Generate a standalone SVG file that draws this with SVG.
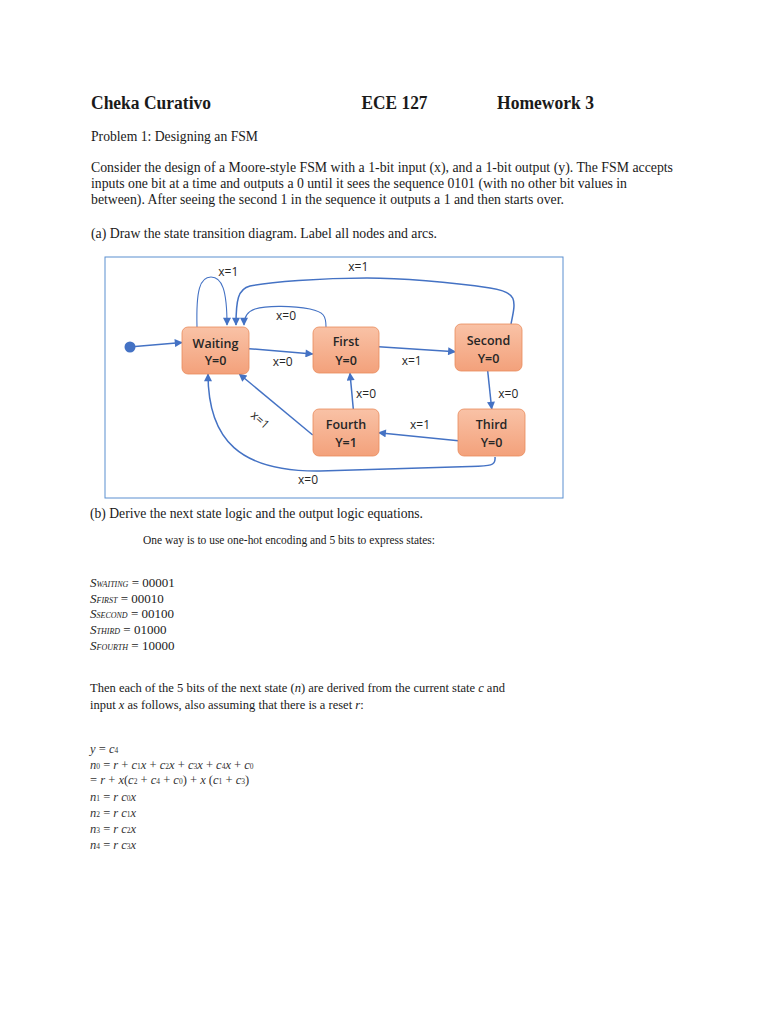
<svg xmlns="http://www.w3.org/2000/svg" width="768" height="1024" viewBox="0 0 768 1024">
<style>
.t{font-family:"Liberation Serif","Times New Roman",serif;fill:#1a1a1a}
.h{font-size:18px;font-weight:bold}
.b{font-size:14px}
.s{font-size:12.5px}
.sl{font-size:13px}
.e{font-size:12.5px;fill:#333}
.i{font-style:italic}
.sub{font-size:7.5px}
.sc{font-size:8px;font-style:italic}
.nt{font-family:"Open Sans","Liberation Sans",sans-serif;font-size:12.5px;fill:#262626;text-anchor:middle;font-weight:600}
.lb{font-family:"Open Sans","Liberation Sans",sans-serif;font-size:12px;fill:#262626;text-anchor:middle}
.node{fill:url(#ng);stroke:#E98A5B;stroke-width:0.8}
.c{fill:none;stroke:#4472C4;stroke-width:1.5}
.c1{fill:none;stroke:#4472C4;stroke-width:1.1}
</style>
<defs>
<linearGradient id="ng" x1="0" y1="0" x2="0" y2="1">
<stop offset="0" stop-color="#F9C2A6"/>
<stop offset="1" stop-color="#F3A17B"/>
</linearGradient>
<marker id="ah" viewBox="0 0 10 10" refX="9" refY="5" markerWidth="9" markerHeight="8" markerUnits="userSpaceOnUse" orient="auto">
<path d="M0,0 L10,5 L0,10 z" fill="#4472C4"/>
</marker>
</defs>
<rect width="768" height="1024" fill="#fff"/>

<g id="header">
<text class="t h" x="91" y="109" textLength="120" lengthAdjust="spacingAndGlyphs">Cheka Curativo</text>
<text class="t h" x="361.5" y="109" textLength="66" lengthAdjust="spacingAndGlyphs">ECE 127</text>
<text class="t h" x="497" y="109" textLength="97" lengthAdjust="spacingAndGlyphs">Homework 3</text>
<text class="t b" x="91" y="141" textLength="167" lengthAdjust="spacingAndGlyphs">Problem 1: Designing an FSM</text>
<text class="t b" x="91" y="172" textLength="582" lengthAdjust="spacingAndGlyphs">Consider the design of a Moore-style FSM with a 1-bit input (x), and a 1-bit output (y). The FSM accepts</text>
<text class="t b" x="91" y="188" textLength="536" lengthAdjust="spacingAndGlyphs">inputs one bit at a time and outputs a 0 until it sees the sequence 0101 (with no other bit values in</text>
<text class="t b" x="91" y="204" textLength="473" lengthAdjust="spacingAndGlyphs">between). After seeing the second 1 in the sequence it outputs a 1 and then starts over.</text>
<text class="t b" x="91" y="238" textLength="346" lengthAdjust="spacingAndGlyphs">(a) Draw the state transition diagram. Label all nodes and arcs.</text>
</g>

<rect id="frame" x="105" y="257" width="458" height="241" fill="none" stroke="#5B8FD0" stroke-width="1"/>

<g id="connectors">
<circle cx="130" cy="347" r="5.5" fill="#4472C4"/>
<path class="c" d="M135,346.5 L182,342.5" marker-end="url(#ah)"/>
<path class="c" d="M249,348.7 L312.7,354" marker-end="url(#ah)"/>
<path class="c" d="M378.7,346.7 L455.3,351.7" marker-end="url(#ah)"/>
<path class="c" d="M487.7,371 L491.7,409" marker-end="url(#ah)"/>
<path class="c" d="M458.3,440.7 L378.7,432.7" marker-end="url(#ah)"/>
<path class="c" d="M353.3,409 L350,373.3" marker-end="url(#ah)"/>
<path class="c" d="M312.7,435 L239.3,374" marker-end="url(#ah)"/>
<path class="c" d="M495,457 C496,466 490,466 470,466.5 L320,471 C240,472 208,440 208,374" marker-end="url(#ah)"/>
<path class="c1" d="M197,327 C196,290 200,277 211,277 C222,277 227,290 227,325" marker-end="url(#ah)"/>
<path class="c" d="M511,324 C516,300 518,292 490,288 C450,282 400,278 367,278 C320,278 270,282 250,286 C238,289 236,300 236,325" marker-end="url(#ah)"/>
<path class="c1" d="M326,327 C326,316 324,312 310,309 C290,305 265,306 255,309 C246,312 244,318 244,325" marker-end="url(#ah)"/>
</g>

<g id="labels">
<text class="lb" x="228.3" y="276">x=1</text>
<text class="lb" x="358.3" y="271">x=1</text>
<text class="lb" x="286" y="320">x=0</text>
<text class="lb" x="282.7" y="366">x=0</text>
<text class="lb" x="411.7" y="365">x=1</text>
<text class="lb" x="508.3" y="397.5">x=0</text>
<text class="lb" x="366" y="397.5">x=0</text>
<text class="lb" x="420" y="429">x=1</text>
<text class="lb" x="260" y="424" transform="rotate(42 260 420)">x=1</text>
<text class="lb" x="308" y="484">x=0</text>
</g>

<g id="waiting">
<rect class="node" x="182" y="327" width="67" height="47" rx="6"/>
<text class="nt" x="215.5" y="347.5">Waiting</text>
<text class="nt" x="215.5" y="364.5">Y=0</text>
</g>
<g id="first">
<rect class="node" x="313" y="327" width="66" height="46" rx="6"/>
<text class="nt" x="346" y="346">First</text>
<text class="nt" x="346" y="364.5">Y=0</text>
</g>
<g id="second">
<rect class="node" x="455" y="324" width="67" height="47" rx="6"/>
<text class="nt" x="488.5" y="344.5">Second</text>
<text class="nt" x="488.5" y="362.5">Y=0</text>
</g>
<g id="fourth">
<rect class="node" x="313" y="409" width="66" height="47" rx="6"/>
<text class="nt" x="346" y="428.5">Fourth</text>
<text class="nt" x="346" y="447">Y=1</text>
</g>
<g id="third">
<rect class="node" x="458" y="409" width="67" height="47" rx="6"/>
<text class="nt" x="491.5" y="428.5">Third</text>
<text class="nt" x="491.5" y="447">Y=0</text>
</g>

<g id="partb">
<text class="t b" x="90" y="518" textLength="333" lengthAdjust="spacingAndGlyphs">(b) Derive the next state logic and the output logic equations.</text>
<text class="t s" x="143" y="544" textLength="292" lengthAdjust="spacingAndGlyphs">One way is to use one-hot encoding and 5 bits to express states:</text>
<text class="t sl" x="90" y="587"><tspan class="i">S</tspan><tspan class="sc">WAITING</tspan> = 00001</text>
<text class="t sl" x="90" y="603"><tspan class="i">S</tspan><tspan class="sc">FIRST</tspan> = 00010</text>
<text class="t sl" x="90" y="618"><tspan class="i">S</tspan><tspan class="sc">SECOND</tspan> = 00100</text>
<text class="t sl" x="90" y="634"><tspan class="i">S</tspan><tspan class="sc">THIRD</tspan> = 01000</text>
<text class="t sl" x="90" y="650"><tspan class="i">S</tspan><tspan class="sc">FOURTH</tspan> = 10000</text>
<text class="t s" x="90" y="692" textLength="415" lengthAdjust="spacingAndGlyphs">Then each of the 5 bits of the next state (<tspan class="i">n</tspan>) are derived from the current state <tspan class="i">c</tspan> and</text>
<text class="t s" x="90" y="709">input <tspan class="i">x</tspan> as follows, also assuming that there is a reset <tspan class="i">r</tspan>:</text>
<text class="t e" x="90" y="753"><tspan class="i">y</tspan> = <tspan class="i">c</tspan><tspan class="sub">4</tspan></text>
<text class="t e" x="90" y="769"><tspan class="i">n</tspan><tspan class="sub">0</tspan> = <tspan class="i">r</tspan> + <tspan class="i">c</tspan><tspan class="sub">1</tspan><tspan class="i">x</tspan> + <tspan class="i">c</tspan><tspan class="sub">2</tspan><tspan class="i">x</tspan> + <tspan class="i">c</tspan><tspan class="sub">3</tspan><tspan class="i">x</tspan> + <tspan class="i">c</tspan><tspan class="sub">4</tspan><tspan class="i">x</tspan> + <tspan class="i">c</tspan><tspan class="sub">0</tspan></text>
<text class="t e" x="90" y="784">= <tspan class="i">r</tspan> + <tspan class="i">x</tspan>(<tspan class="i">c</tspan><tspan class="sub">2</tspan> + <tspan class="i">c</tspan><tspan class="sub">4</tspan> + <tspan class="i">c</tspan><tspan class="sub">0</tspan>) + <tspan class="i">x</tspan> (<tspan class="i">c</tspan><tspan class="sub">1</tspan> + <tspan class="i">c</tspan><tspan class="sub">3</tspan>)</text>
<text class="t e" x="90" y="801"><tspan class="i">n</tspan><tspan class="sub">1</tspan> = <tspan class="i">r c</tspan><tspan class="sub">0</tspan><tspan class="i">x</tspan></text>
<text class="t e" x="90" y="817"><tspan class="i">n</tspan><tspan class="sub">2</tspan> = <tspan class="i">r c</tspan><tspan class="sub">1</tspan><tspan class="i">x</tspan></text>
<text class="t e" x="90" y="833"><tspan class="i">n</tspan><tspan class="sub">3</tspan> = <tspan class="i">r c</tspan><tspan class="sub">2</tspan><tspan class="i">x</tspan></text>
<text class="t e" x="90" y="849"><tspan class="i">n</tspan><tspan class="sub">4</tspan> = <tspan class="i">r c</tspan><tspan class="sub">3</tspan><tspan class="i">x</tspan></text>
</g>
</svg>
